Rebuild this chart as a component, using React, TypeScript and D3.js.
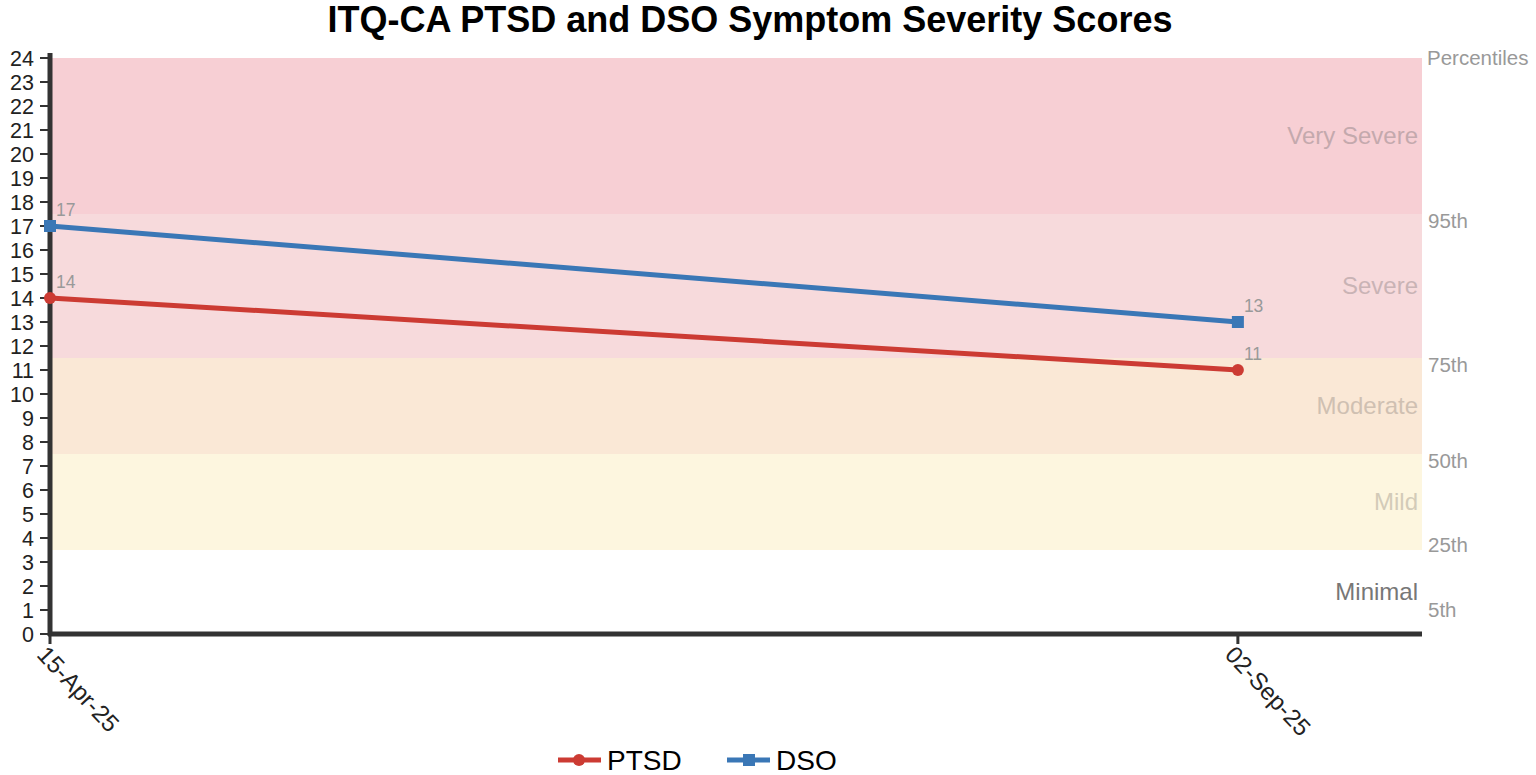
import React from "react";
import * as d3 from "d3";

const dates = ["2025-04-15", "2025-09-02"];
const dateLabels = ["15-Apr-25", "02-Sep-25"];
const ptsd = [14, 11];
const dso = [17, 13];

const bandNames = ["Minimal", "Mild", "Moderate", "Severe", "Very Severe"];
const bandFrom = [0, 3.5, 7.5, 11.5, 17.5];
const bandTo = [3.5, 7.5, 11.5, 17.5, 24];
const bandFill = ["#ffffff", "#fdf6df", "#fae8d6", "#f7dadc", "#f7cfd4"];
const bandText = ["#777777", "#d3cbb8", "#cfc0b2", "#c9b3b5", "#c4a9ad"];

const pctLabels = ["5th", "25th", "50th", "75th", "95th"];
const pctValues = [1, 3.7, 7.2, 11.2, 17.2];

const yTicks = d3.range(0, 25);

const W = 1536;
const H = 775;
const left = 50;
const right = 1422;
const top = 58;
const bottom = 634;
const DAY = 864e5;

export default function App() {
  const parse = d3.utcParse("%Y-%m-%d");
  const t0 = parse(dates[0]) as Date;
  const t1 = parse(dates[1]) as Date;
  // leave some room after the last visit on the time axis
  const tEnd = new Date(t1.getTime() + 21.7 * DAY);
  const x = d3.scaleUtc().domain([t0, tEnd]).range([left, right]);
  const y = d3.scaleLinear().domain([0, 24]).range([bottom, top]);
  const line = d3
    .line<number>()
    .x((_, i) => x(parse(dates[i]) as Date))
    .y((v) => y(v));
  const font = "'Liberation Sans', Arial, Helvetica, sans-serif";
  const red = "#cc3b33";
  const blue = "#3a77b6";

  return (
    <svg width={W} height={H} style={{ position: "absolute", left: 0, top: 0 }} fontFamily={font}>
      <text x={750} y={32} textAnchor="middle" fontSize={36} fontWeight="bold" fill="#000">
        ITQ-CA PTSD and DSO Symptom Severity Scores
      </text>
      {bandNames.map((n, i) => (
        <g key={n}>
          <rect
            x={left}
            y={y(bandTo[i])}
            width={right - left}
            height={y(bandFrom[i]) - y(bandTo[i])}
            fill={bandFill[i]}
          />
          <text
            x={right - 4}
            y={(y(bandFrom[i]) + y(bandTo[i])) / 2}
            dy="0.35em"
            textAnchor="end"
            fontSize={24}
            fill={bandText[i]}
          >
            {n}
          </text>
        </g>
      ))}
      <text x={1427} y={58} dy="0.35em" fontSize={20.5} fill="#999">
        Percentiles
      </text>
      {pctLabels.map((p, i) => (
        <text key={p} x={1428} y={y(pctValues[i])} dy="0.35em" fontSize={20.5} fill="#999">
          {p}
        </text>
      ))}
      {/* y axis */}
      {yTicks.map((t) => (
        <g key={t}>
          <line x1={left - 10} x2={left} y1={y(t)} y2={y(t)} stroke="#333" strokeWidth={2} />
          <text x={left - 16} y={y(t)} dy="0.36em" textAnchor="end" fontSize={21.5} fill="#222">
            {t}
          </text>
        </g>
      ))}
      <line x1={left} x2={left} y1={top - 5} y2={bottom + 2} stroke="#333" strokeWidth={5} />
      {/* x axis */}
      <line x1={left - 2} x2={right} y1={bottom} y2={bottom} stroke="#333" strokeWidth={5} />
      {dates.map((d, i) => {
        const px = x(parse(d) as Date);
        return (
          <g key={d}>
            <line x1={px} x2={px} y1={bottom} y2={bottom + 10} stroke="#333" strokeWidth={3} />
            <text
              transform={`translate(${px - 8},${bottom + 16}) rotate(47)`}
              fontSize={24}
              fill="#222"
              dy="0.35em"
            >
              {dateLabels[i]}
            </text>
          </g>
        );
      })}
      {/* series */}
      <path d={line(ptsd) || ""} fill="none" stroke={red} strokeWidth={5} />
      <path d={line(dso) || ""} fill="none" stroke={blue} strokeWidth={5} />
      {ptsd.map((v, i) => {
        const px = x(parse(dates[i]) as Date);
        return (
          <g key={"p" + i}>
            <circle cx={px} cy={y(v)} r={6} fill={red} />
            <text x={px + 6} y={y(v) - 10} fontSize={17.5} fill="#999">
              {v}
            </text>
          </g>
        );
      })}
      {dso.map((v, i) => {
        const px = x(parse(dates[i]) as Date);
        return (
          <g key={"d" + i}>
            <rect x={px - 6} y={y(v) - 6} width={12} height={12} fill={blue} />
            <text x={px + 6} y={y(v) - 10} fontSize={17.5} fill="#999">
              {v}
            </text>
          </g>
        );
      })}
      {/* legend */}
      <g>
        <line x1={558} x2={601} y1={760} y2={760} stroke={red} strokeWidth={5} />
        <circle cx={579} cy={760} r={6} fill={red} />
        <text x={607} y={760} dy="0.35em" fontSize={28} fill="#000">
          PTSD
        </text>
        <line x1={727} x2={770} y1={760} y2={760} stroke={blue} strokeWidth={5} />
        <rect x={743} y={754} width={12} height={12} fill={blue} />
        <text x={776} y={760} dy="0.35em" fontSize={28} fill="#000">
          DSO
        </text>
      </g>
    </svg>
  );
}
